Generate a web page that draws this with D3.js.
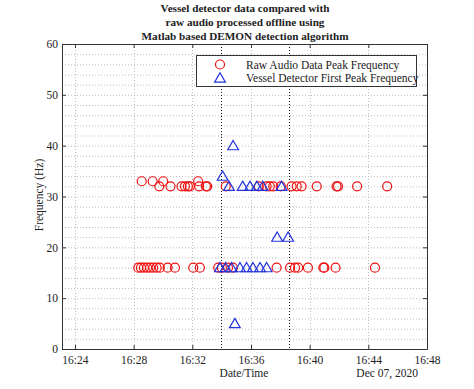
<!DOCTYPE html>
<html><head><meta charset="utf-8">
<script src="https://cdn.jsdelivr.net/npm/d3@7"></script>
<style>body{margin:0;background:#fff}svg{display:block}text{font-family:"Liberation Serif","Times New Roman",serif;fill:#222}</style>
</head><body>
<script>
const titleLines = ["Vessel detector data compared with","raw audio processed offline using","Matlab based DEMON detection algorithm"];
const seriesNames = ["Raw Audio Data Peak Frequency","Vessel Detector First Peak Frequency"];
const rawTimes = ["16:28:33","16:29:18","16:29:45","16:30:01","16:30:31","16:31:16","16:31:30","16:31:42","16:31:50","16:32:24","16:32:28","16:32:56","16:33:01","16:34:17","16:36:32","16:37:04","16:37:17","16:37:31","16:38:02","16:38:46","16:39:07","16:39:27","16:40:29","16:41:50","16:41:56","16:43:14","16:45:17",
  "16:28:19","16:28:30","16:28:42","16:28:55","16:29:07","16:29:20","16:29:34","16:29:47","16:30:19","16:30:49","16:32:04","16:32:31","16:33:46","16:34:01","16:34:26","16:34:46","16:37:45","16:38:40","16:39:00","16:39:13","16:39:53","16:40:56","16:41:00","16:41:46","16:44:27"];
const rawFreq = [33,33,32,33,32,32,32,32,32,33,32,32,32,32,32,32,32,32,32,32,32,32,32,32,32,32,32,
  16,16,16,16,16,16,16,16,16,16,16,16,16,16,16,16,16,16,16,16,16,16,16,16,16];
const detTimes = ["16:34:30","16:35:26","16:35:56","16:36:24","16:36:48","16:38:05","16:34:04","16:34:47","16:37:47","16:38:32","16:34:54",
  "16:33:53","16:34:16","16:34:41","16:35:15","16:35:42","16:36:08","16:36:37","16:37:04"];
const detFreq = [32,32,32,32,32,32,34,40,22,22,5,16,16,16,16,16,16,16,16];
const eventTimes = ["16:33:57","16:38:35"];
const xTickTimes = ["16:24","16:28","16:32","16:36","16:40","16:44","16:48"];
const yTicks = [0,10,20,30,40,50,60];
const xDomain = ["16:23:07","16:48:00"];
const dateLabel = "Dec 07, 2020";

const W=474,H=389, L=62,R=427,T=44,B=349;
const parse = s => { const p=s.split(":").map(Number); return new Date(2020,11,7,p[0],p[1],p[2]||0); };
const svg = d3.select("body").append("svg").attr("width",W).attr("height",H);
const x = d3.scaleTime().domain(xDomain.map(parse)).range([L,R]);
const y = d3.scaleLinear().domain([0,60]).range([B,T]);

// grid
const g = svg.append("g");
g.selectAll(".hg").data(d3.range(2,60,2)).join("line")
  .attr("x1",L).attr("x2",R).attr("y1",d=>y(d)+0.5).attr("y2",d=>y(d)+0.5)
  .attr("stroke","#bdbdbd").attr("stroke-width",1).attr("stroke-dasharray","1,2");
g.selectAll(".vg").data(xTickTimes).join("line")
  .attr("x1",d=>Math.round(x(parse(d)))+0.5).attr("x2",d=>Math.round(x(parse(d)))+0.5).attr("y1",T).attr("y2",B)
  .attr("stroke","#bdbdbd").attr("stroke-width",1).attr("stroke-dasharray","1,2");
g.selectAll(".ev").data(eventTimes).join("line")
  .attr("x1",d=>Math.round(x(parse(d)))+0.5).attr("x2",d=>Math.round(x(parse(d)))+0.5).attr("y1",T).attr("y2",B)
  .attr("stroke","#111").attr("stroke-width",1).attr("stroke-dasharray","1,2");

// axes
const axB = d3.axisBottom(x).tickValues(xTickTimes.map(parse)).tickFormat(d3.timeFormat("%H:%M")).tickSizeInner(-4).tickSizeOuter(0).tickPadding(7);
const axT = d3.axisTop(x).tickValues(xTickTimes.map(parse)).tickFormat("").tickSizeInner(-4).tickSizeOuter(0);
const axL = d3.axisLeft(y).tickValues(yTicks).tickSizeInner(-4).tickSizeOuter(0).tickPadding(4);
const axR = d3.axisRight(y).tickValues(yTicks).tickFormat("").tickSizeInner(-4).tickSizeOuter(0);
function style(sel){ sel.selectAll("path").attr("stroke","#333"); sel.selectAll("line").attr("stroke","#333"); sel.selectAll("text").attr("font-size",11.5).attr("font-family","Liberation Serif").attr("fill","#222"); }
svg.append("g").attr("transform",`translate(0,${B})`).call(axB).call(style);
svg.append("g").attr("transform",`translate(0,${T})`).call(axT).call(style);
svg.append("g").attr("transform",`translate(${L},0)`).call(axL).call(style);
svg.append("g").attr("transform",`translate(${R},0)`).call(axR).call(style);

// data
const red="#ee1111", blue="#2233dd";
svg.append("g").selectAll("circle").data(rawTimes.map((t,i)=>[t,rawFreq[i]])).join("circle")
  .attr("cx",d=>x(parse(d[0]))).attr("cy",d=>y(d[1])).attr("r",4.5)
  .attr("fill","none").attr("stroke",red).attr("stroke-width",1.2);
const tri = d3.symbol().type(d3.symbolTriangle).size(50);
svg.append("g").selectAll("path").data(detTimes.map((t,i)=>[t,detFreq[i]])).join("path")
  .attr("d",tri).attr("transform",d=>`translate(${x(parse(d[0]))},${y(d[1])+1})`)
  .attr("fill","none").attr("stroke",blue).attr("stroke-width",1.2);

// title
svg.append("g").selectAll("text").data(titleLines).join("text")
  .attr("x",245).attr("y",(d,i)=>12+i*14).attr("text-anchor","middle")
  .attr("font-weight","bold").attr("font-size",11.2).text(d=>d);

// labels
svg.append("text").attr("x",244).attr("y",377).attr("text-anchor","middle").attr("font-size",11.5).text("Date/Time");
svg.append("text").attr("x",418).attr("y",377).attr("text-anchor","end").attr("font-size",11.5).text(dateLabel);
svg.append("text").attr("transform","translate(43,195) rotate(-90)").attr("text-anchor","middle").attr("font-size",11.5).text("Frequency (Hz)");

// legend
const lg = svg.append("g");
lg.append("rect").attr("x",196.5).attr("y",55.5).attr("width",220).attr("height",31).attr("fill","#fff").attr("stroke","#333");
lg.append("circle").attr("cx",220).attr("cy",64.5).attr("r",4.5).attr("fill","none").attr("stroke",red).attr("stroke-width",1.2);
lg.append("path").attr("d",tri).attr("transform","translate(220,79)").attr("fill","none").attr("stroke",blue).attr("stroke-width",1.2);
lg.selectAll(".lt").data(seriesNames).join("text").attr("x",246).attr("y",(d,i)=>68.5+i*13.5).attr("font-size",11.5).text(d=>d);
</script>
</body></html>
